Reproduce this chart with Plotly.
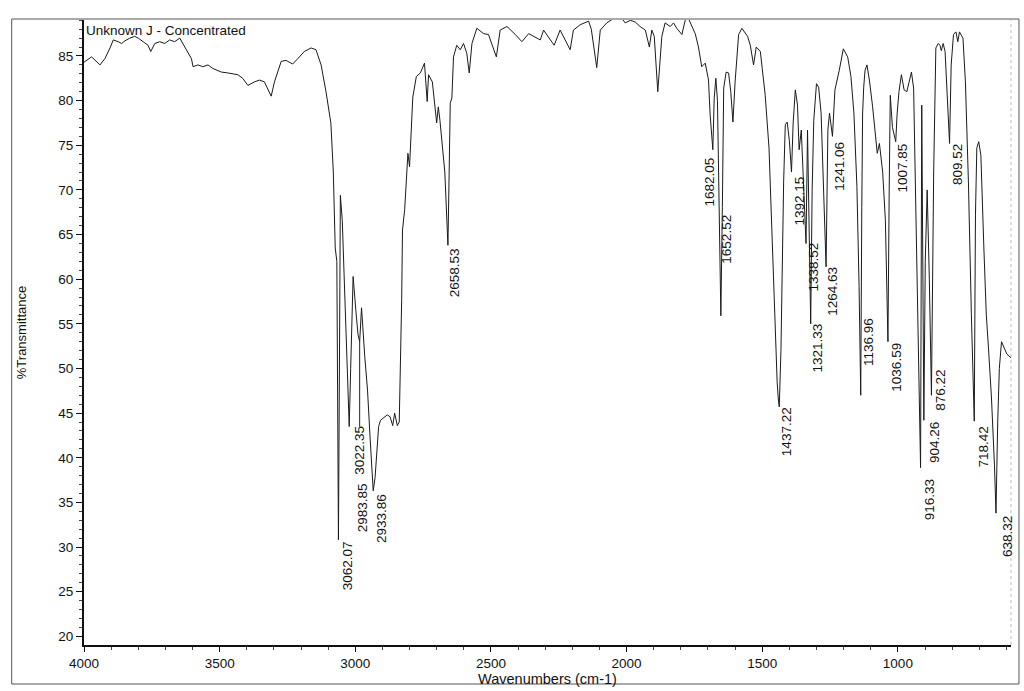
import plotly.graph_objects as go

# ---------------- data ----------------
wavenumber = [
    4000, 3972, 3941, 3923, 3904, 3892, 3874, 3861, 3849, 3831, 3813, 3800, 3782, 3764, 3754,
    3739, 3721, 3702, 3684, 3666, 3647, 3629, 3604, 3598, 3580, 3562, 3543, 3525, 3506, 3494,
    3470, 3433, 3415, 3396, 3372, 3353, 3335, 3316, 3310, 3298, 3273, 3255, 3231, 3212, 3188,
    3163, 3145, 3126, 3108, 3090, 3081, 3074, 3068, 3062.07, 3058, 3055, 3048, 3040, 3033, 3027,
    3022.35, 3017, 3008, 2998, 2990, 2983.85, 2977, 2965, 2955, 2945, 2939, 2933.86, 2927, 2920,
    2914, 2907, 2895, 2882, 2872, 2862, 2855, 2845, 2838, 2833, 2829, 2826, 2818, 2806, 2800,
    2788, 2775, 2760, 2745, 2735, 2730, 2716, 2700, 2694, 2688, 2670, 2664, 2658.53, 2654, 2650,
    2644, 2638, 2626, 2613, 2601, 2589, 2580, 2570, 2552, 2527, 2509, 2480, 2466, 2441, 2410,
    2386, 2361, 2318, 2306, 2267, 2245, 2208, 2196, 2171, 2140, 2130, 2110, 2097, 2073, 2048,
    2030, 2017, 2005, 1986, 1968, 1950, 1931, 1916, 1907, 1898, 1885, 1870, 1858, 1839, 1827,
    1815, 1796, 1784, 1772, 1759, 1747, 1735, 1723, 1710, 1698, 1692, 1682.05, 1677, 1671, 1665,
    1658, 1652.52, 1647, 1642, 1633, 1624, 1616, 1608, 1600, 1587, 1575, 1563, 1554, 1544, 1532,
    1522, 1507, 1500, 1489, 1475, 1463, 1451, 1445, 1441, 1437.22, 1431, 1426, 1421, 1415, 1408,
    1400, 1392.15, 1386, 1378, 1370, 1364, 1356, 1349, 1338.52, 1333, 1328, 1321.33, 1316, 1310,
    1300, 1292, 1283, 1275, 1264.63, 1258, 1252, 1241.06, 1232, 1216, 1201, 1185, 1173, 1162,
    1151, 1143, 1136.96, 1133, 1130, 1126, 1121, 1114, 1105, 1093, 1076, 1068, 1056, 1046, 1040,
    1036.59, 1032, 1028, 1020, 1013, 1007.85, 1003, 996, 987, 977, 967, 950, 942, 934, 925,
    916.33, 912, 908, 904.26, 899, 892, 884, 876.22, 868, 860, 851, 845, 840, 833, 826,
    818, 813, 809.52, 803.5, 795, 786, 779, 773, 760, 751, 740, 729, 723, 718.42, 714,
    709, 702, 694, 683, 674, 666, 655, 644, 638.32, 632, 626, 618, 608, 598, 583,
]
transmittance = [
    84.3, 84.9, 84.0, 84.7, 85.9, 86.8, 86.6, 86.4, 86.7, 87.0, 87.2, 87.0, 86.6, 86.2, 85.5,
    86.4, 86.6, 86.4, 86.8, 86.6, 87.0, 86.0, 84.7, 83.8, 84.0, 83.8, 84.0, 83.6, 83.4, 83.2,
    83.1, 82.9, 82.5, 81.7, 82.1, 82.3, 82.1, 81.0, 80.5, 82.1, 84.4, 84.5, 84.1, 84.7, 85.5,
    85.9, 85.7, 84.0, 81.0, 77.5, 72.0, 63.5, 62.0, 30.8, 66.6, 69.4, 66.6, 59.2, 53.0, 46.5,
    43.5, 50.0, 60.3, 56.5, 53.8, 53.0, 56.8, 51.3, 47.6, 42.0, 38.0, 36.3, 37.8, 41.5,
    43.5, 44.2, 44.5, 44.8, 44.6, 43.6, 45.0, 43.6, 44.0, 50.2, 57.7, 65.5, 67.8, 74.1, 72.6,
    80.4, 82.7, 83.1, 84.2, 79.9, 82.9, 82.1, 77.5, 79.3, 77.8, 72.0, 67.0, 63.8, 72.0, 79.7,
    80.3, 84.9, 86.2, 85.7, 86.4, 85.3, 83.1, 86.4, 88.1, 87.5, 87.4, 84.9, 87.9, 88.3, 87.4,
    86.6, 87.5, 86.8, 87.9, 86.2, 87.9, 85.7, 87.9, 88.5, 88.9, 88.0, 83.7, 87.9, 88.7, 89.2,
    89.4, 89.2, 88.7, 89.0, 88.8, 88.3, 87.9, 86.0, 87.9, 87.2, 81.0, 87.2, 88.7, 88.3, 88.7,
    88.1, 87.4, 89.0, 89.2, 88.3, 87.5, 86.0, 83.8, 84.2, 82.3, 78.4, 74.5, 80.3, 82.5, 80.0,
    68.0, 55.9, 68.0, 81.4, 83.2, 83.1, 81.0, 77.6, 82.1, 87.4, 88.1, 87.5, 87.2, 86.2, 84.0,
    86.0, 85.5, 83.6, 80.6, 74.7, 63.5, 52.3, 48.5, 46.7, 45.7, 52.0, 62.0, 71.0, 77.3, 77.6,
    75.5, 72.0, 77.5, 81.2, 79.5, 74.5, 76.7, 72.0, 64.0, 76.7, 68.0, 55.0, 70.0, 77.8,
    81.9, 81.5, 78.6, 70.4, 61.4, 76.7, 78.6, 76.0, 81.2, 83.4, 85.8, 84.9, 82.7, 78.6,
    70.4, 59.2, 47.0, 68.0, 78.5, 81.5, 83.4, 84.0, 82.3, 79.3, 74.1, 75.2, 72.0, 66.6, 56.0,
    53.0, 70.0, 80.6, 77.0, 75.8, 75.4, 78.4, 81.0, 82.9, 81.2, 81.0, 83.2, 81.4, 67.2, 50.0,
    38.9, 79.5, 62.0, 44.2, 62.0, 70.0, 60.0, 47.0, 72.0, 85.9, 86.4, 86.2, 85.6, 86.4, 85.5,
    80.0, 78.4, 75.2, 84.0, 87.4, 87.7, 86.6, 87.7, 87.0, 82.1, 70.9, 56.0, 49.0, 44.1, 67.2,
    74.7, 75.4, 73.9, 63.5, 56.0, 52.3, 46.7, 39.2, 33.8, 44.0, 50.0, 53.0, 52.2, 51.6, 51.2,
]

peak_wavenumbers = [3062.07, 3022.35, 2983.85, 2933.86, 2658.53, 1682.05, 1652.52, 1437.22,
                    1392.15, 1338.52, 1321.33, 1264.63, 1241.06, 1136.96, 1036.59, 1007.85,
                    916.33, 904.26, 876.22, 809.52, 718.42, 638.32]
peak_labels = ["3062.07", "3022.35", "2983.85", "2933.86", "2658.53", "1682.05", "1652.52",
               "1437.22", "1392.15", "1338.52", "1321.33", "1264.63", "1241.06", "1136.96",
               "1036.59", "1007.85", "916.33", "904.26", "876.22", "809.52", "718.42", "638.32"]

x_ticks = [4000, 3500, 3000, 2500, 2000, 1500, 1000]
y_ticks = [20, 25, 30, 35, 40, 45, 50, 55, 60, 65, 70, 75, 80, 85]

title_text = "Unknown J - Concentrated"

# ---------------- label placement (pixel offsets, styling only) ----------------
label_shift = {
    "3062.07": (9, -26), "3022.35": (10, -24), "2983.85": (3, -166), "2933.86": (9, -28),
    "2658.53": (6, -27), "1682.05": (-3, -32), "1652.52": (6, 77), "1437.22": (8, -25),
    "1392.15": (8, -29), "1338.52": (7, -24), "1321.33": (7, -24), "1264.63": (7, -25),
    "1241.06": (7, -30), "1136.96": (8, 53), "1036.59": (9, -25), "1007.85": (7, -26),
    "916.33": (9, -32), "904.26": (10, -22), "876.22": (9, 5), "809.52": (8, -21),
    "718.42": (9, -26), "638.32": (11, -23),
}

FONT = "Liberation Sans, Arial, sans-serif"
lookup = dict(zip(wavenumber, transmittance))

fig = go.Figure()
fig.add_trace(go.Scatter(
    x=wavenumber, y=transmittance, mode="lines",
    line=dict(color="#1a1a1a", width=1), hoverinfo="skip", showlegend=False,
))

annotations = []
for wn, lab in zip(peak_wavenumbers, peak_labels):
    dx, dy = label_shift[lab]
    annotations.append(dict(
        x=wn, y=lookup[wn], xref="x", yref="y", text=lab, showarrow=False,
        textangle=-90, xanchor="center", yanchor="middle", xshift=dx, yshift=dy,
        font=dict(family=FONT, size=13.5, color="#111"),
    ))

annotations.append(dict(
    x=0, y=0.983, xref="paper", yref="paper", text=title_text, showarrow=False,
    xanchor="left", yanchor="middle", font=dict(family=FONT, size=13.5, color="#111"),
))

shapes = []
# leader line for the crowded 2983.85 label
shapes.append(dict(type="line", xref="x", yref="y", xsizemode="pixel", ysizemode="pixel",
                   xanchor=2983.85, yanchor=lookup[2983.85], x0=0, x1=0, y0=0, y1=-85,
                   line=dict(color="#222", width=1)))
# scanned page frame
frame = dict(color="#555", width=1)
shapes += [
    dict(type="line", xref="paper", yref="paper", x0=-0.078, x1=1.0086, y0=1.0016, y1=1.0016, line=frame),
    dict(type="line", xref="paper", yref="paper", x0=-0.078, x1=1.0086, y0=-0.0624, y1=-0.0624, line=frame),
    dict(type="line", xref="paper", yref="paper", x0=-0.078, x1=-0.078, y0=-0.0624, y1=1.0016, line=frame),
    dict(type="line", xref="paper", yref="paper", x0=1.0086, x1=1.0086, y0=-0.0624, y1=1.0016, line=frame),
    dict(type="line", xref="paper", yref="paper", x0=1.0, x1=1.0, y0=0, y1=1,
         line=dict(color="#bbb", width=1, dash="dot")),
]

fig.update_layout(
    width=1024, height=691, autosize=False,
    margin=dict(l=84, r=13, t=20, b=46, pad=0),
    paper_bgcolor="white", plot_bgcolor="white",
    annotations=annotations, shapes=shapes,
    font=dict(family=FONT, color="#111"),
)
fig.update_xaxes(
    range=[4000, 583], tickvals=x_ticks, ticks="outside", ticklen=5, tickwidth=1,
    tickcolor="#111", showline=True, linewidth=2, linecolor="#111", showgrid=False,
    zeroline=False, tickfont=dict(family=FONT, size=13.5, color="#111"),
    minor=dict(dtick=100, ticks="outside", ticklen=3, tickcolor="#444"),
    title=dict(text="Wavenumbers (cm-1)", font=dict(family=FONT, size=14.5, color="#111"), standoff=4),
    automargin=False,
)
fig.update_yaxes(
    range=[19.03, 89.03], tickvals=y_ticks, ticks="outside", ticklen=6, tickwidth=1,
    tickcolor="#111", showline=True, linewidth=2, linecolor="#111", showgrid=False,
    zeroline=False, tickfont=dict(family=FONT, size=13.5, color="#111"),
    minor=dict(dtick=1, ticks="outside", ticklen=3, tickcolor="#444"),
    title=dict(text="%Transmittance", font=dict(family=FONT, size=13, color="#111"), standoff=29),
    automargin=False,
)

fig.write_html("out.html")
